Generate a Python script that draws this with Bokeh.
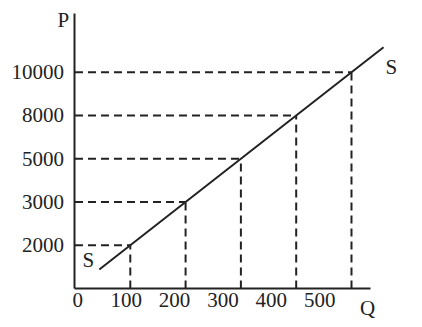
import numpy as np
from bokeh.plotting import figure
from bokeh.models import Range1d, FixedTicker, Label
from bokeh.embed import file_html
from bokeh.resources import INLINE

# ---- data ----
quantity = [100, 200, 300, 400, 500]          # Q at each marked point
price = [2000, 3000, 5000, 8000, 10000]       # P at each marked point
y_tick_labels = ["2000", "3000", "5000", "8000", "10000"]
x_tick_labels = ["0", "100", "200", "300", "400", "500"]

# ---- layout / style ----
FONT = "Liberation Serif"
INK = "#222222"
FS = "21px"

pos = np.arange(1, len(quantity) + 1)  # evenly spaced positions used by the diagram
x_pos = pos.astype(float)
y_pos = pos.astype(float)

p = figure(width=422, height=327, output_backend="svg", toolbar_location=None,
           x_range=Range1d(-1.347, 6.284), y_range=Range1d(-0.902, 6.659),
           min_border_left=0, min_border_right=0, min_border_top=0, min_border_bottom=0)
p.grid.visible = False
p.outline_line_color = None
p.background_fill_color = "white"
p.border_fill_color = "white"

# dashed guides
p.segment(x0=np.zeros_like(x_pos), y0=y_pos, x1=x_pos, y1=y_pos,
          line_color=INK, line_width=2, line_dash="8 5")
p.segment(x0=x_pos, y0=np.zeros_like(y_pos), x1=x_pos, y1=y_pos,
          line_color=INK, line_width=2, line_dash="8 5")

# supply curve through the points, extended a little at both ends
lo = 0.56
hi = 0.58
sx = np.concatenate([[x_pos[0] - lo * (x_pos[1] - x_pos[0])], x_pos, [x_pos[-1] + hi * (x_pos[-1] - x_pos[-2])]])
sy = np.concatenate([[y_pos[0] - lo * (y_pos[1] - y_pos[0])], y_pos, [y_pos[-1] + hi * (y_pos[-1] - y_pos[-2])]])
p.line(sx, sy, line_color=INK, line_width=2)

# axes, placed at the origin inside the frame
for ax in (p.xaxis[0], p.yaxis[0]):
    ax.fixed_location = 0
    ax.axis_line_color = INK
    ax.axis_line_width = 2
    ax.major_tick_in = 0
    ax.major_tick_out = 0
    ax.minor_tick_line_color = None
    ax.major_tick_line_color = None
    ax.major_label_text_font = FONT
    ax.major_label_text_font_size = FS
    ax.major_label_text_color = INK

p.yaxis[0].ticker = FixedTicker(ticks=list(y_pos))
p.yaxis[0].major_label_overrides = {float(v): t for v, t in zip(y_pos, y_tick_labels)}
p.yaxis[0].major_label_standoff = 11
p.yaxis[0].bounds = (0, 6.36)

x_ticks = [0.05 + 0.875 * i for i in range(len(x_tick_labels))]
p.xaxis[0].ticker = FixedTicker(ticks=x_ticks)
p.xaxis[0].major_label_overrides = {float(v): t for v, t in zip(x_ticks, x_tick_labels)}
p.xaxis[0].major_label_standoff = 5
p.xaxis[0].bounds = (0, 5.35)

def lab(x, y, t):
    p.add_layout(Label(x=x, y=y, text=t, text_font=FONT, text_font_size=FS,
                       text_color=INK, text_align="center", text_baseline="middle"))

lab(-0.21, 6.2, "P")
lab(5.29, -0.44, "Q")
lab(0.24, 0.65, "S")
lab(5.72, 5.13, "S")

open("out.html", "w").write(file_html(p, INLINE))
